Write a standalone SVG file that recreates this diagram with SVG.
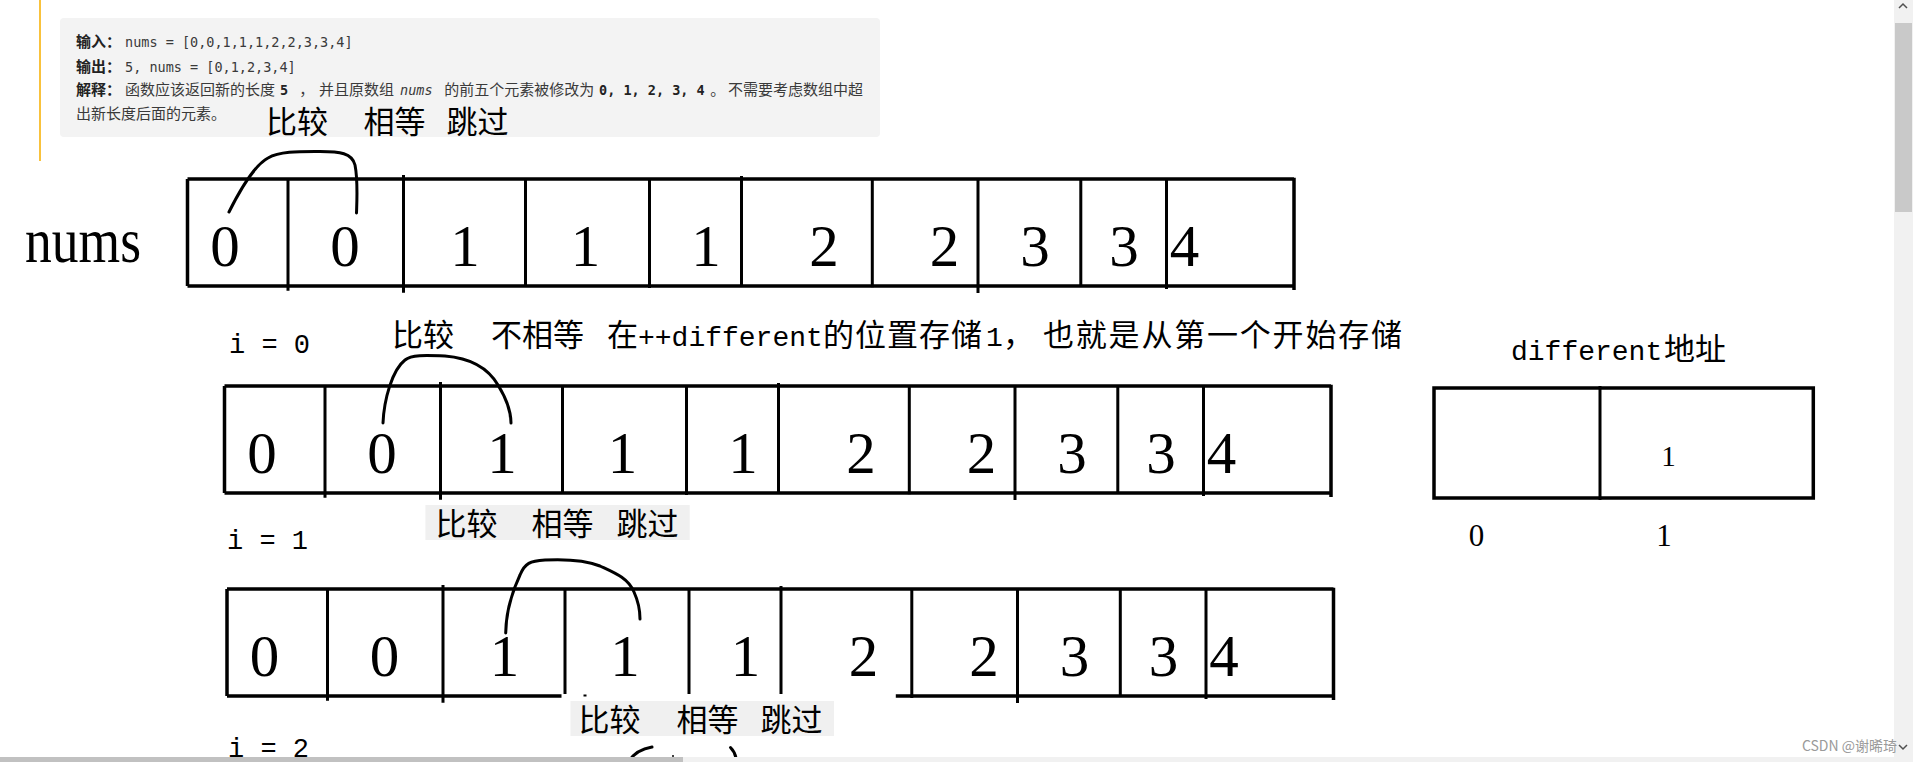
<svg xmlns="http://www.w3.org/2000/svg" width="1913" height="762" viewBox="0 0 1913 762">
<style>
.cjk{font-family:"Noto Sans CJK SC",sans-serif}
.lat{font-family:"Liberation Mono","Noto Sans CJK SC",monospace;font-size:28px}
.ln{stroke:#000;stroke-width:3.5;fill:none}
.dv{stroke:#000;stroke-width:3;fill:none}
.arc{stroke:#000;stroke-width:3;fill:none;stroke-linecap:round;stroke-linejoin:round}
.dig{font-family:"Liberation Serif",serif;font-size:59px;text-anchor:middle;fill:#000}
.lab{font-family:"Noto Sans CJK SC",sans-serif;font-size:31px;fill:#000}
.iv{font-family:"Liberation Mono",monospace;font-size:27px;fill:#000}
.gt{font-family:"Noto Sans CJK SC",sans-serif;font-size:15px;fill:#3a3a3a}
.gb{font-weight:bold;fill:#222}
.gm{font-family:"DejaVu Sans Mono","Liberation Mono",monospace;font-size:13.5px}
.lbg{fill:#f0f0f0}
</style>
<rect width="1913" height="762" fill="#fff"/>

<g id="page">
  <rect x="39" y="0" width="2" height="161" fill="#f9c23c"/>
  <rect x="60" y="18" width="820" height="119" rx="4" fill="#f3f3f3"/>
  <text class="gt" y="47.3"><tspan x="76" class="gb">输入：</tspan><tspan x="125" class="gm">nums = [0,0,1,1,1,2,2,3,3,4]</tspan></text>
  <text class="gt" y="71.7"><tspan x="76" class="gb">输出：</tspan><tspan x="125" class="gm">5, nums = [0,1,2,3,4]</tspan></text>
  <text class="gt" y="94.7" xml:space="preserve"><tspan x="76" class="gb">解释：</tspan><tspan x="125">函数应该返回新的长度 </tspan><tspan x="280" class="gm gb">5</tspan><tspan x="296"> ， </tspan><tspan x="319">并且原数组 </tspan><tspan x="400" class="gm" font-style="italic">nums</tspan><tspan x="441"> 的前五个元素被修改为 </tspan><tspan x="599" class="gm gb">0, 1, 2, 3, 4</tspan><tspan x="707"> 。</tspan><tspan x="728">不需要考虑数组中超</tspan></text>
  <text class="gt" x="76" y="119">出新长度后面的元素。</text>
</g>

<g id="label-top">
  <text class="lab" y="133" xml:space="preserve"><tspan x="266">比较  </tspan><tspan x="363.5">相等 </tspan><tspan x="446.5">跳过</tspan></text>
</g>

<g id="nums-label">
  <text x="25" y="262" font-family="Liberation Serif,serif" font-size="63" textLength="116" lengthAdjust="spacingAndGlyphs">nums</text>
</g>

<g id="row1">
  <path class="ln" d="M187.5,179H1294M187.5,286H1294M187.5,179V286M1294,177.7V290"/>
  <path class="dv" d="M288,179V290.7M403.5,175V292.7M525.5,179V286M649.5,179V288M741.5,176V287M872.3,179V287.3M978,179V293M1080.8,179V286M1166.5,179V289"/>
  <text class="dig" y="266"><tspan x="225">0</tspan><tspan x="345">0</tspan><tspan x="465">1</tspan><tspan x="585.5">1</tspan><tspan x="706">1</tspan><tspan x="824">2</tspan><tspan x="944.5">2</tspan><tspan x="1035">3</tspan><tspan x="1124">3</tspan><tspan x="1184.5">4</tspan></text>
</g>

<g id="i0"><text class="iv" x="229" y="352.5" xml:space="preserve">i = 0</text></g>

<g id="label-neq">
  <text class="lab" y="346" font-size="32" xml:space="preserve"><tspan x="392">比较  </tspan><tspan x="491">不相等 </tspan><tspan x="607">在</tspan><tspan class="lat" x="638">++different</tspan><tspan x="823" letter-spacing="1">的位置存储</tspan><tspan class="lat" x="986">1</tspan><tspan x="1003">，</tspan><tspan x="1043" letter-spacing="1.8">也就是从第一个开始存储</tspan></text>
</g>

<g id="row2" transform="translate(37,207)">
  <path class="ln" d="M187.5,179H1294M187.5,286H1294M187.5,179V286M1294,177.7V290"/>
  <path class="dv" d="M288,179V290.7M403.5,175V292.7M525.5,179V286M649.5,179V288M741.5,176V287M872.3,179V287.3M978,179V293M1080.8,179V286M1166.5,179V289"/>
  <text class="dig" y="266"><tspan x="225">0</tspan><tspan x="345">0</tspan><tspan x="465">1</tspan><tspan x="585.5">1</tspan><tspan x="706">1</tspan><tspan x="824">2</tspan><tspan x="944.5">2</tspan><tspan x="1035">3</tspan><tspan x="1124">3</tspan><tspan x="1184.5">4</tspan></text>
</g>

<g id="label-eq1">
  <rect class="lbg" x="425.4" y="505" width="264.3" height="35"/>
  <text class="lab" y="534.5" xml:space="preserve"><tspan x="435.6">比较  </tspan><tspan x="531.6">相等 </tspan><tspan x="616.4">跳过</tspan></text>
</g>

<g id="i1"><text class="iv" x="227" y="548.5" xml:space="preserve">i = 1</text></g>

<g id="different">
  <text y="359.5"><tspan class="lat" x="1511">different</tspan><tspan class="cjk" font-size="31" x="1664">地址</tspan></text>
  <rect class="ln" x="1434" y="388" width="379.3" height="110"/>
  <path class="dv" d="M1600,386V500"/>
  <text x="1668.5" y="466" font-family="Liberation Serif,serif" font-size="29" text-anchor="middle">1</text>
  <text x="1476.5" y="545.5" font-family="Liberation Serif,serif" font-size="31" text-anchor="middle">0</text>
  <text x="1664" y="545.5" font-family="Liberation Serif,serif" font-size="31" text-anchor="middle">1</text>
</g>

<g id="row3" transform="translate(39.5,410)">
  <path class="ln" d="M187.5,179H1294M187.5,286H522M856.3,286H1294M187.5,179V286M1294,177.7V290"/>
  <path class="dv" d="M288,179V290.7M403.5,175V292.7M525.5,179V284M649.5,179V284M741.5,176V284M872.3,179V288M978,179V293M1080.8,179V286M1166.5,179V289M545.5,284.5V286.5"/>
  <text class="dig" y="266"><tspan x="225">0</tspan><tspan x="345">0</tspan><tspan x="465">1</tspan><tspan x="585.5">1</tspan><tspan x="706">1</tspan><tspan x="824">2</tspan><tspan x="944.5">2</tspan><tspan x="1035">3</tspan><tspan x="1124">3</tspan><tspan x="1184.5">4</tspan></text>
</g>

<g id="label-eq2">
  <rect class="lbg" x="570.5" y="701" width="263.5" height="35"/>
  <text class="lab" y="731.3" xml:space="preserve"><tspan x="578.4">比较  </tspan><tspan x="676.6">相等 </tspan><tspan x="760.6">跳过</tspan></text>
</g>

<g id="i2"><text class="iv" x="228" y="757" xml:space="preserve">i = 2</text></g>

<g id="connectors">
  <path class="arc" d="M229,212C240,190 255,165 268,158C280,151 300,151.5 320,151.5C340,151.5 352,153 355,165C358,180 357,200 356.5,213"/>
  <path class="arc" d="M383,423C384,400 392,370 405,360C412,354 430,355.5 445,356C470,358 488,368 498,385C506,398 511,410 511,423"/>
  <path class="arc" d="M505.7,633C506,612 512,592 520,575C525,563 530,561 545,560C565,559 585,560 600,566C615,573 628,578 634,592C639,603 640,610 640,619"/>
  <path class="arc" d="M628,762C634,753 642,748.5 652,747"/>
  <path class="arc" d="M730.5,747.5C733,750 735,753 736,758"/>
  <circle cx="673" cy="756" r="1" fill="#000"/>
</g>

<g id="scrollbars">
  <rect x="0" y="757" width="1894" height="5" fill="#f1f1f1"/>
  <rect x="0" y="757" width="683" height="5" fill="#c1c1c1"/>
  <rect x="1894" y="0" width="19" height="762" fill="#f1f1f1"/>
  <rect x="1895" y="23" width="17" height="189" fill="#c9c9c9"/>
  <polyline points="1899,8 1903,4 1907,8" fill="none" stroke="#505050" stroke-width="1.5"/>
  <polyline points="1899,745 1903,749 1907,745" fill="none" stroke="#505050" stroke-width="1.5"/>
</g>

<g id="watermark">
  <text x="1897" y="751" text-anchor="end" font-family="Noto Sans CJK SC,sans-serif" font-size="14" fill="#9a9a9a">CSDN @谢晞琦</text>
</g>
</svg>
